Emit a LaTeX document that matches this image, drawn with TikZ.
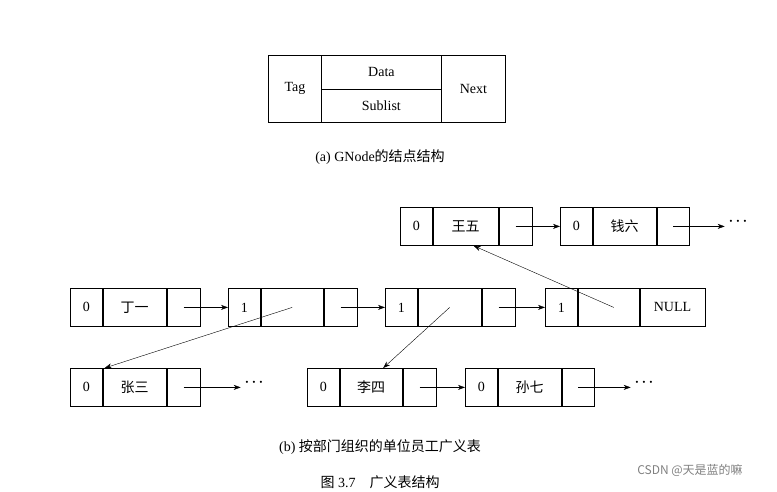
\documentclass[tikz,border=0pt]{standalone}
\usepackage{fontspec}
\setmainfont{Liberation Serif}
\newfontfamily\cjk{Noto Sans CJK SC}
\usetikzlibrary{arrows.meta}
\begin{document}
\begin{tikzpicture}[x=1pt,y=-1pt,
  cell/.style={draw,thick,minimum height=38pt,inner sep=0pt,anchor=north west,font=\fontsize{14}{16}\selectfont},
  arr/.style={-{Stealth[length=7pt,width=5pt]},thin},
  lbl/.style={font=\fontsize{14}{16}\selectfont},
  dots/.style={font=\fontsize{20}{20}\selectfont\bfseries}]
\useasboundingbox (0,0) rectangle (777,492);
% GNode
\node[cell,minimum width=53pt,minimum height=67pt] (tag) at (268,55) {Tag};
\node[cell,minimum width=120pt,minimum height=34pt] (data) at (321,55) {Data};
\node[cell,minimum width=120pt,minimum height=33pt] (sub) at (321,89) {Sublist};
\node[cell,minimum width=64pt,minimum height=67pt] (next) at (441,55) {Next};
\node[lbl] (capa) at (380,157) {(a) GNode{\cjk 的结点结构}};
% generic box macro
\newcommand\gbox[7]{% name x y tag text w2 w3
  \node[cell,minimum width=32pt] (#1a) at (#2,#3) {#4};
  \node[cell,minimum width=#6pt,anchor=north west] (#1b) at (#1a.north east) {#5};
  \node[cell,minimum width=#7pt,anchor=north west] (#1c) at (#1b.north east) {};}
\gbox{w}{400}{207}{0}{\cjk 王五}{65}{33}
\gbox{q}{560}{207}{0}{\cjk 钱六}{63}{32}
\gbox{d}{70}{288}{0}{\cjk 丁一}{63}{33}
\gbox{m}{228}{288}{1}{}{62}{33}
\gbox{n}{385}{288}{1}{}{63}{33}
\node[cell,minimum width=32pt] (pa) at (545,288) {1};
\node[cell,minimum width=61pt,anchor=north west] (pb) at (pa.north east) {};
\node[cell,minimum width=65pt,anchor=north west] (pc) at (pb.north east) {NULL};
\gbox{z}{70}{368}{0}{\cjk 张三}{63}{33}
\gbox{l}{307}{368}{0}{\cjk 李四}{62}{33}
\gbox{s}{465}{368}{0}{\cjk 孙七}{63}{32}
% dots
\node[dots] (e1) at (738,222) {$\cdot\!\cdot\!\cdot$};
\node[dots] (e2) at (254,383) {$\cdot\!\cdot\!\cdot$};
\node[dots] (e3) at (644,383) {$\cdot\!\cdot\!\cdot$};
% horizontal links
\draw[arr] (wc.center) -- (qa.west);
\draw[arr] (qc.center) -- (qc.center -| e1.west);
\draw[arr] (dc.center) -- (ma.west);
\draw[arr] (mc.center) -- (na.west);
\draw[arr] (nc.center) -- (pa.west);
\draw[arr] (zc.center) -- (zc.center -| e2.west);
\draw[arr] (lc.center) -- (sa.west);
\draw[arr] (sc.center) -- (sc.center -| e3.west);
% sublist links
\draw[arr] (mb.center) -- ([xshift=-30pt]zb.north);
\draw[arr] (nb.center) -- ([xshift=12pt]lb.north);
\draw[arr] ([xshift=5pt]pb.center) -- ([xshift=8pt]wb.south);
% captions
\node[lbl] (capb) at (380,447) {(b) {\cjk 按部门组织的单位员工广义表}};
\node[lbl] (capc) at (380,482) {{\cjk 图} 3.7\quad{\cjk 广义表结构}};
\node[font=\fontsize{12}{14}\selectfont\cjk,text=gray] (wm) at (690,470) {CSDN @天是蓝的嘛};
\end{tikzpicture}
\end{document}
